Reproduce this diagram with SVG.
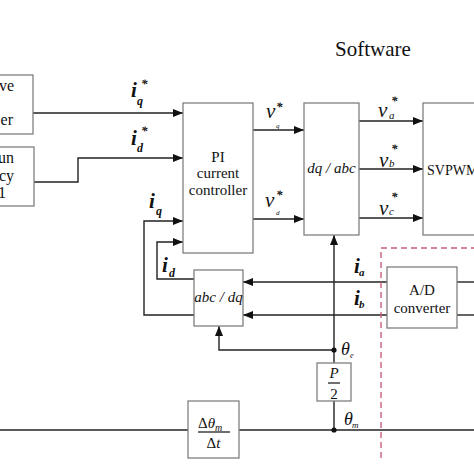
<svg xmlns="http://www.w3.org/2000/svg" width="474" height="474" viewBox="0 0 474 474">
<style>
.box{fill:#fff;stroke:#808080;stroke-width:1.3}
.ln{fill:none;stroke:#222;stroke-width:1.4}
.t{font-family:"Liberation Serif",serif;font-size:15px;fill:#111}
.it{font-family:"Liberation Serif",serif;font-style:italic;fill:#111}
.sym{font-family:"Liberation Serif",serif;font-style:italic;font-weight:bold;fill:#111}
.dash{fill:none;stroke:#c8607a;stroke-width:1.4;stroke-dasharray:6,4}
</style>
<defs>
<marker id="ar" markerUnits="userSpaceOnUse" markerWidth="10" markerHeight="8" refX="10" refY="4" orient="auto">
<path d="M0,0 L10,4 L0,8 z" fill="#111"/>
</marker>
</defs>
<rect width="474" height="474" fill="#fff"/>
<text class="t" x="373" y="56" text-anchor="middle" style="font-size:21px">Software</text>

<g id="connectors">
<path class="ln" d="M33,113 H183" marker-end="url(#ar)"/>
<path class="ln" d="M34,182 H78 V158 H183" marker-end="url(#ar)"/>
<path class="ln" d="M194,315 H144 V221 H183" marker-end="url(#ar)"/>
<path class="ln" d="M194,279 H157 V242 H183" marker-end="url(#ar)"/>
<path class="ln" d="M253,130 H304" marker-end="url(#ar)"/>
<path class="ln" d="M253,219 H304" marker-end="url(#ar)"/>
<path class="ln" d="M359,121 H423" marker-end="url(#ar)"/>
<path class="ln" d="M359,169 H423" marker-end="url(#ar)"/>
<path class="ln" d="M359,218 H423" marker-end="url(#ar)"/>
<path class="ln" d="M474,282 H457"/>
<path class="ln" d="M474,315 H457"/>
<path class="ln" d="M387,282 H243" marker-end="url(#ar)"/>
<path class="ln" d="M387,315 H243" marker-end="url(#ar)"/>
<path class="ln" d="M334,363 V235" marker-end="url(#ar)"/>
<path class="ln" d="M334,350 H219 V326" marker-end="url(#ar)"/>
<path class="ln" d="M334,401 V430"/>
<path class="ln" d="M0,430 H188"/>
<path class="ln" d="M239,430 H474"/>
<circle cx="334" cy="350" r="2.6" fill="#111"/>
<circle cx="334" cy="430" r="2.6" fill="#111"/>
</g>

<path class="dash" d="M381,458 V248 H474"/>

<g id="box-left1">
<rect class="box" x="-10" y="75" width="43" height="59"/>
<text class="t" x="14" y="91" text-anchor="end" style="font-size:16px">ve</text>
<text class="t" x="13" y="125" text-anchor="end" style="font-size:16px">er</text>
</g>
<g id="box-left2">
<rect class="box" x="-10" y="147" width="44" height="59"/>
<text class="t" x="14" y="163" text-anchor="end" style="font-size:16px">un</text>
<text class="t" x="14" y="181" text-anchor="end" style="font-size:16px">cy</text>
<text class="t" x="6" y="198" text-anchor="end" style="font-size:16px">1</text>
</g>
<g id="pi">
<rect class="box" x="183" y="103" width="70" height="150"/>
<text class="t" x="218" y="162" text-anchor="middle">PI</text>
<text class="t" x="218" y="178" text-anchor="middle">current</text>
<text class="t" x="218" y="195" text-anchor="middle">controller</text>
</g>
<g id="dqabc">
<rect class="box" x="304" y="103" width="55" height="132"/>
<text class="it" x="331.5" y="173" text-anchor="middle" style="font-size:15px">dq / abc</text>
</g>
<g id="svpwm">
<rect class="box" x="423" y="103" width="60" height="132"/>
<text class="t" x="427" y="175" style="font-size:14px">SVPWM</text>
</g>
<g id="abcdq">
<rect class="box" x="194" y="270" width="49" height="56"/>
<text class="it" x="218.5" y="302" text-anchor="middle" style="font-size:15px">abc / dq</text>
</g>
<g id="ad">
<rect class="box" x="387" y="267" width="70" height="61"/>
<text class="t" x="422" y="295" text-anchor="middle">A/D</text>
<text class="t" x="422" y="313" text-anchor="middle">converter</text>
</g>
<g id="p2">
<rect class="box" x="317" y="363" width="34" height="38"/>
<text class="it" x="334" y="378" text-anchor="middle" style="font-size:15px">P</text>
<line x1="328" y1="383" x2="340" y2="383" stroke="#111" stroke-width="1.2"/>
<text class="t" x="334" y="399" text-anchor="middle">2</text>
</g>
<g id="deriv">
<rect class="box" x="188" y="401" width="51" height="57"/>
<text class="t" x="198" y="428" style="font-size:15px">Δ<tspan class="it">θ</tspan><tspan class="it" style="font-size:10px" dy="3">m</tspan></text>
<line x1="198" y1="432" x2="230" y2="432" stroke="#111" stroke-width="1.2"/>
<text class="t" x="213.5" y="448" text-anchor="middle">Δ<tspan class="it">t</tspan></text>
</g>

<g id="labels">
<text class="sym" x="131" y="97" style="font-size:21px">i</text>
<text class="sym" x="137" y="105" style="font-size:12px">q</text>
<text class="sym" x="141" y="88" style="font-size:13px">*</text>
<text class="sym" x="131" y="145" style="font-size:21px">i</text>
<text class="sym" x="137" y="152" style="font-size:12px">d</text>
<text class="sym" x="141" y="135" style="font-size:13px">*</text>
<text class="sym" x="149" y="208" style="font-size:21px">i</text>
<text class="sym" x="156" y="215" style="font-size:12px">q</text>
<text class="sym" x="162" y="272" style="font-size:21px">i</text>
<text class="sym" x="169" y="277" style="font-size:12px">d</text>
<text class="it" x="266" y="118" style="font-size:21px">v</text>
<text class="sym" x="276" y="111" style="font-size:13px">*</text>
<text class="it" x="276" y="128" style="font-size:7px">q</text>
<text class="it" x="265" y="207" style="font-size:21px">v</text>
<text class="sym" x="276" y="199" style="font-size:13px">*</text>
<text class="it" x="276" y="215" style="font-size:7px">d</text>
<text class="it" x="378" y="117" style="font-size:21px">v</text>
<text class="sym" x="391" y="105" style="font-size:13px">*</text>
<text class="it" x="389" y="119" style="font-size:11px">a</text>
<text class="it" x="379" y="167" style="font-size:21px">v</text>
<text class="sym" x="391" y="153" style="font-size:13px">*</text>
<text class="it" x="389" y="167" style="font-size:11px">b</text>
<text class="it" x="379" y="215" style="font-size:21px">v</text>
<text class="sym" x="391" y="201" style="font-size:13px">*</text>
<text class="it" x="389" y="215" style="font-size:11px">c</text>
<text class="sym" x="354" y="273" style="font-size:21px">i</text>
<text class="sym" x="359" y="276" style="font-size:11px">a</text>
<text class="sym" x="354" y="305" style="font-size:21px">i</text>
<text class="sym" x="359" y="308" style="font-size:11px">b</text>
<text class="it" x="341" y="355" style="font-size:18px">θ</text>
<text class="it" x="350" y="358" style="font-size:8px">e</text>
<text class="it" x="344" y="425" style="font-size:18px">θ</text>
<text class="it" x="352" y="428" style="font-size:9px">m</text>
</g>
</svg>
